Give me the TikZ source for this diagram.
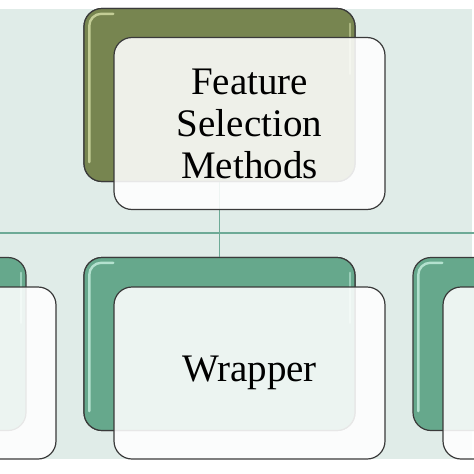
\documentclass[tikz,border=0pt]{standalone}
\usepackage{fontspec}
\setmainfont{Liberation Serif}
\usetikzlibrary{positioning}
\definecolor{mintbg}{HTML}{E0ECE8}
\definecolor{olivebox}{HTML}{778550}
\definecolor{olivegloss}{HTML}{D6E0A8}
\definecolor{greenbox}{HTML}{66A88C}
\definecolor{greengloss}{HTML}{C8F0E0}
\definecolor{edgegray}{HTML}{3A3A3A}
\definecolor{linkteal}{HTML}{6DAA96}
\tikzset{
  backbox/.style={draw=edgegray, fill=#1, line width=1.2pt, rounded corners=18pt,
    minimum width=271pt, minimum height=173pt, inner sep=0pt},
  glossarea/.style={minimum width=260pt, minimum height=162pt, inner sep=0pt},
  gloss/.style={draw=#1, line width=2.4pt, draw opacity=0.8, line cap=round,
    rounded corners=12pt},
  frontbox/.style={draw=edgegray, fill=white, fill opacity=0.88, text opacity=1,
    line width=1.2pt, rounded corners=18pt, minimum width=271pt, minimum height=172pt,
    inner sep=0pt, align=center, font=\fontsize{39}{42}\selectfont},
  link/.style={draw=linkteal, line width=1.4pt}
}
\newcommand{\glossy}[2]{%
  \draw[gloss=#2] ([yshift=14pt]#1.south west) |- ([xshift=24pt]#1.north west);
  \draw[gloss=#2, draw opacity=0.55] ([yshift=-10pt]#1.north east) -- ([yshift=-60pt]#1.north east);
}
\begin{document}
\begin{tikzpicture}[x=1pt, y=-1pt]
  \useasboundingbox (0,0) rectangle (474,474);
  \clip (0,0) rectangle (474,474);
  % background panel
  \fill[mintbg] (0,9) rectangle (472,459);
  % tree connectors
  \coordinate (busleft) at (0,233);
  \coordinate (busright) at (474,233);
  \node[backbox=olivebox] (topback) at (219.5,95) {};
  \node[backbox=greenbox] (midback) at (219.5,344) {};
  \draw[link] (busleft) -- (busright);
  \draw[link] (topback.south) -- (midback.north);
  % back boxes with gloss
  \node[backbox=olivebox] at (topback) {};
  \node[glossarea] (topgloss) at (topback) {};
  \glossy{topgloss}{olivegloss}
  \node[backbox=greenbox] (leftback) at (-109.5,344) {};
  \node[glossarea] (leftgloss) at (leftback) {};
  \glossy{leftgloss}{greengloss}
  \node[backbox=greenbox] at (midback) {};
  \node[glossarea] (midgloss) at (midback) {};
  \glossy{midgloss}{greengloss}
  \node[backbox=greenbox] (rightback) at (548.5,344) {};
  \node[glossarea] (rightgloss) at (rightback) {};
  \glossy{rightgloss}{greengloss}
  % front boxes
  \node[frontbox] (topfront) at (249.5,123.5) {Feature\\Selection\\Methods};
  \node[frontbox] (leftfront) at (-79.5,373) {};
  \node[frontbox] (midfront) at (249.5,373) {Wrapper};
  \node[frontbox] (rightfront) at (578.5,373) {};
\end{tikzpicture}
\end{document}
